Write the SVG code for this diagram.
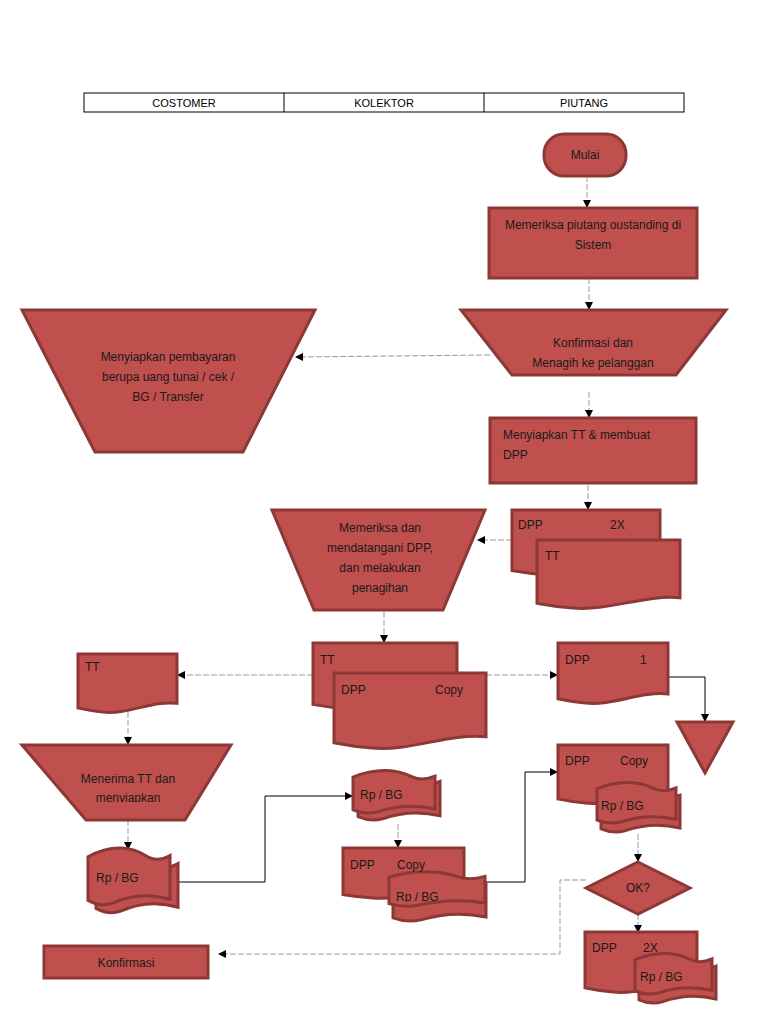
<svg xmlns="http://www.w3.org/2000/svg" width="768" height="1024" viewBox="0 0 768 1024">
<style>
.n{fill:#c0504d;stroke:#8c3836;stroke-width:3;vector-effect:non-scaling-stroke}
.t{font-family:"Liberation Sans",Arial,sans-serif;font-size:12px;fill:#1a1a1a}
.c{text-anchor:middle}
.h{font-family:"Liberation Sans",Arial,sans-serif;font-size:11px;text-anchor:middle;fill:#000}
.l{fill:none;stroke:#999;stroke-width:1;stroke-dasharray:6 2}
.k{fill:none;stroke:#000;stroke-width:1}
</style>
<defs>
<marker id="a" markerWidth="8" markerHeight="8" refX="7" refY="4" orient="auto" markerUnits="userSpaceOnUse"><path d="M0,0L8,4L0,8Z" fill="#000"/></marker>
<clipPath id="cp"><rect x="0" y="740" width="300" height="62"/></clipPath>
<clipPath id="cp2"><rect x="380" y="860" width="120" height="42"/></clipPath>
</defs>
<g id="header">
<rect x="84" y="93" width="600" height="19" fill="#fff" stroke="#000"/>
<line x1="284" y1="93" x2="284" y2="112" stroke="#000"/>
<line x1="484" y1="93" x2="484" y2="112" stroke="#000"/>
<text class="h" x="184" y="107">COSTOMER</text>
<text class="h" x="384" y="107">KOLEKTOR</text>
<text class="h" x="584" y="107">PIUTANG</text>
</g>
<g id="connectors">
<line class="l" x1="587" y1="176" x2="587" y2="207" marker-end="url(#a)"/>
<line class="l" x1="589" y1="278" x2="589" y2="309" marker-end="url(#a)"/>
<line class="l" x1="490" y1="355" x2="296" y2="357" marker-end="url(#a)"/>
<line class="l" x1="589" y1="392" x2="589" y2="417" marker-end="url(#a)"/>
<line class="l" x1="588" y1="485" x2="588" y2="509" marker-end="url(#a)"/>
<line class="l" x1="512" y1="540" x2="478" y2="540" marker-end="url(#a)"/>
<line class="l" x1="384" y1="612" x2="384" y2="642" marker-end="url(#a)"/>
<line class="l" x1="313" y1="675" x2="178" y2="675" marker-end="url(#a)"/>
<line class="l" x1="486" y1="675" x2="557" y2="675" marker-end="url(#a)"/>
<polyline class="k" points="668,677 705,677 705,721" marker-end="url(#a)"/>
<line class="l" x1="128" y1="712" x2="128" y2="744" marker-end="url(#a)"/>
<line class="l" x1="128" y1="820" x2="128" y2="849" marker-end="url(#a)"/>
<polyline class="k" points="178,882 265,882 265,796 352,796" marker-end="url(#a)"/>
<line class="l" x1="398" y1="824" x2="398" y2="847" marker-end="url(#a)"/>
<polyline class="k" points="486,882 525,882 525,772 557,772" marker-end="url(#a)"/>
<line class="l" x1="638" y1="834" x2="638" y2="861" marker-end="url(#a)"/>
<polyline class="l" points="586,880 560,880 560,954 219,954" marker-end="url(#a)"/>
<line class="l" x1="638" y1="914" x2="638" y2="932" marker-end="url(#a)"/>
</g>
<g id="mulai"><rect class="n" x="544" y="134" width="82" height="42" rx="20"/><text class="t c" x="585" y="159">Mulai</text></g>
<g id="memeriksa-piutang"><rect class="n" x="489" y="208" width="208" height="70"/><text class="t c" x="593" y="229">Memeriksa piutang oustanding di</text><text class="t c" x="593" y="249">Sistem</text></g>
<g id="konfirmasi-menagih"><path class="n" d="M461,310H726L676,375H512Z"/><text class="t c" x="593" y="347">Konfirmasi dan</text><text class="t c" x="593" y="367">Menagih ke pelanggan</text></g>
<g id="menyiapkan-pembayaran"><path class="n" d="M22,310H315L243,452H95Z"/><text class="t c" x="168" y="361">Menyiapkan pembayaran</text><text class="t c" x="168" y="381">berupa uang tunai / cek /</text><text class="t c" x="168" y="401">BG / Transfer</text></g>
<g id="menyiapkan-tt"><rect class="n" x="490" y="418" width="206" height="65"/><text class="t" x="503" y="439">Menyiapkan TT &amp; membuat</text><text class="t" x="503" y="459">DPP</text></g>
<g id="dpp-2x-tt">
<path class="n" transform="translate(512,510) scale(148,65)" d="M0,0H1V0.85C0.75,0.8 0.5,1.05 0.25,1C0.12,0.98 0.05,0.95 0,0.93Z"/>
<path class="n" transform="translate(537,540) scale(143,68)" d="M0,0H1V0.85C0.75,0.8 0.5,1.05 0.25,1C0.12,0.98 0.05,0.95 0,0.93Z"/>
<text class="t" x="518" y="529">DPP</text><text class="t" x="610" y="529">2X</text><text class="t" x="545" y="560">TT</text>
</g>
<g id="memeriksa-dpp"><path class="n" d="M272,510H485L443,610H314Z"/><text class="t c" x="380" y="532">Memeriksa dan</text><text class="t c" x="380" y="552">mendatangani DPP,</text><text class="t c" x="380" y="572">dan melakukan</text><text class="t c" x="380" y="592">penagihan</text></g>
<g id="tt-dpp-copy">
<path class="n" transform="translate(313,643) scale(144,66)" d="M0,0H1V0.85C0.75,0.8 0.5,1.05 0.25,1C0.12,0.98 0.05,0.95 0,0.93Z"/>
<path class="n" transform="translate(334,673) scale(152,75)" d="M0,0H1V0.85C0.75,0.8 0.5,1.05 0.25,1C0.12,0.98 0.05,0.95 0,0.93Z"/>
<text class="t" x="320" y="664">TT</text><text class="t" x="341" y="694">DPP</text><text class="t" x="435" y="694">Copy</text>
</g>
<g id="tt-left"><path class="n" transform="translate(78,654) scale(99,58)" d="M0,0H1V0.85C0.75,0.8 0.5,1.05 0.25,1C0.12,0.98 0.05,0.95 0,0.93Z"/><text class="t" x="85" y="671">TT</text></g>
<g id="dpp-1"><path class="n" transform="translate(558,643) scale(110,60)" d="M0,0H1V0.85C0.75,0.8 0.5,1.05 0.25,1C0.12,0.98 0.05,0.95 0,0.93Z"/><text class="t" x="565" y="664">DPP</text><text class="t" x="640" y="664">1</text></g>
<g id="arsip"><path class="n" d="M677,722H733L705,773Z"/></g>
<g id="menerima-tt"><path class="n" d="M22,745H231L185,820H86Z"/><text class="t c" x="128" y="783">Menerima TT dan</text><text class="t c" x="128" y="802" clip-path="url(#cp)">menyiapkan</text></g>
<g id="rpbg-left">
<path class="n" transform="translate(96,858) scale(82,56)" d="M0,0.12C0.3,-0.12 0.55,-0.05 0.7,0.1C0.8,0.2 0.9,0.18 1,0.1V0.88C0.7,0.75 0.45,0.85 0.3,0.95C0.2,1 0.1,0.98 0,0.9Z"/>
<path class="n" transform="translate(88,850) scale(82,56)" d="M0,0.12C0.3,-0.12 0.55,-0.05 0.7,0.1C0.8,0.2 0.9,0.18 1,0.1V0.88C0.7,0.75 0.45,0.85 0.3,0.95C0.2,1 0.1,0.98 0,0.9Z"/>
<text class="t" x="96" y="882">Rp / BG</text>
</g>
<g id="rpbg-mid">
<path class="n" transform="translate(358,777) scale(82,44)" d="M0,0.12C0.3,-0.12 0.55,-0.05 0.7,0.1C0.8,0.2 0.9,0.18 1,0.1V0.88C0.7,0.75 0.45,0.85 0.3,0.95C0.2,1 0.1,0.98 0,0.9Z"/>
<path class="n" transform="translate(353,772) scale(82,42)" d="M0,0.12C0.3,-0.12 0.55,-0.05 0.7,0.1C0.8,0.2 0.9,0.18 1,0.1V0.88C0.7,0.75 0.45,0.85 0.3,0.95C0.2,1 0.1,0.98 0,0.9Z"/>
<text class="t" x="360" y="799">Rp / BG</text>
</g>
<g id="dpp-copy-rpbg-mid">
<path class="n" transform="translate(343,848) scale(121,50)" d="M0,0H1V0.85C0.75,0.8 0.5,1.05 0.25,1C0.12,0.98 0.05,0.95 0,0.93Z"/>
<path class="n" transform="translate(393,880) scale(93,42)" d="M0,0.12C0.3,-0.12 0.55,-0.05 0.7,0.1C0.8,0.2 0.9,0.18 1,0.1V0.88C0.7,0.75 0.45,0.85 0.3,0.95C0.2,1 0.1,0.98 0,0.9Z"/>
<path class="n" transform="translate(389,873) scale(96,34)" d="M0,0.12C0.3,-0.12 0.55,-0.05 0.7,0.1C0.8,0.2 0.9,0.18 1,0.1V0.88C0.7,0.75 0.45,0.85 0.3,0.95C0.2,1 0.1,0.98 0,0.9Z"/>
<text class="t" x="350" y="869">DPP</text><text class="t" x="397" y="869">Copy</text>
<text class="t" x="396" y="901" clip-path="url(#cp2)">Rp / BG</text>
</g>
<g id="dpp-copy-rpbg-right">
<path class="n" transform="translate(558,745) scale(110,58)" d="M0,0H1V0.85C0.75,0.8 0.5,1.05 0.25,1C0.12,0.98 0.05,0.95 0,0.93Z"/>
<path class="n" transform="translate(601,791) scale(79,42)" d="M0,0.12C0.3,-0.12 0.55,-0.05 0.7,0.1C0.8,0.2 0.9,0.18 1,0.1V0.88C0.7,0.75 0.45,0.85 0.3,0.95C0.2,1 0.1,0.98 0,0.9Z"/>
<path class="n" transform="translate(597,784) scale(79,40)" d="M0,0.12C0.3,-0.12 0.55,-0.05 0.7,0.1C0.8,0.2 0.9,0.18 1,0.1V0.88C0.7,0.75 0.45,0.85 0.3,0.95C0.2,1 0.1,0.98 0,0.9Z"/>
<text class="t" x="565" y="765">DPP</text><text class="t" x="620" y="765">Copy</text><text class="t" x="601" y="810">Rp / BG</text>
</g>
<g id="ok"><path class="n" d="M638,862L690,888L638,914L586,888Z"/><text class="t c" x="638" y="892">OK?</text></g>
<g id="dpp-2x-rpbg">
<path class="n" transform="translate(585,932) scale(112,60)" d="M0,0H1V0.85C0.75,0.8 0.5,1.05 0.25,1C0.12,0.98 0.05,0.95 0,0.93Z"/>
<path class="n" transform="translate(639,962) scale(77,42)" d="M0,0.12C0.3,-0.12 0.55,-0.05 0.7,0.1C0.8,0.2 0.9,0.18 1,0.1V0.88C0.7,0.75 0.45,0.85 0.3,0.95C0.2,1 0.1,0.98 0,0.9Z"/>
<path class="n" transform="translate(635,955) scale(77,40)" d="M0,0.12C0.3,-0.12 0.55,-0.05 0.7,0.1C0.8,0.2 0.9,0.18 1,0.1V0.88C0.7,0.75 0.45,0.85 0.3,0.95C0.2,1 0.1,0.98 0,0.9Z"/>
<text class="t" x="592" y="952">DPP</text><text class="t" x="643" y="952">2X</text><text class="t" x="640" y="981">Rp / BG</text>
</g>
<g id="konfirmasi"><rect class="n" x="44" y="946" width="164" height="32"/><text class="t c" x="126" y="967">Konfirmasi</text></g>
</svg>
